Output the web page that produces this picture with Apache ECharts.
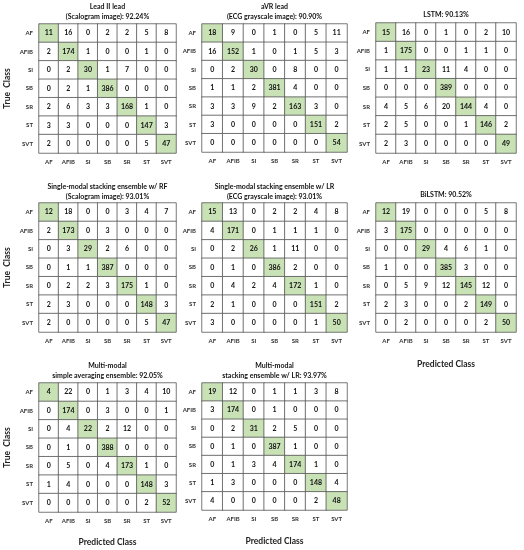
<!DOCTYPE html>
<html>
<head>
<meta charset="utf-8">
<script src="https://cdn.jsdelivr.net/npm/echarts@6/dist/echarts.min.js"></script>
<style>
html,body{margin:0;padding:0;background:#fff;}
#chart{width:524px;height:550px;}
</style>
</head>
<body>
<div id="chart"></div>
<script>
const classes = ['AF','AFIB','SI','SB','SR','ST','SVT'];

const titlesA = ['Lead II lead','(Scalogram image): 92.24%'];
const titlesB = ['aVR lead','(ECG grayscale image): 90.90%'];
const titlesC = ['LSTM: 90.13%'];
const titlesD = ['Single-modal stacking ensemble w/ RF','(Scalogram image): 93.01%'];
const titlesE = ['Single-modal stacking ensemble w/ LR','(ECG grayscale image): 93.01%'];
const titlesF = ['BiLSTM: 90.52%'];
const titlesG = ['Multi-modal','simple averaging ensemble: 92.05%'];
const titlesH = ['Multi-modal','stacking ensemble w/ LR: 93.97%'];

const leadII = [
  [11,16,0,2,2,5,8],
  [2,174,1,0,0,1,0],
  [0,2,30,1,7,0,0],
  [0,2,1,386,0,0,0],
  [2,6,3,3,168,1,0],
  [3,3,0,0,0,147,3],
  [2,0,0,0,0,5,47]
];
const aVR = [
  [18,9,0,1,0,5,11],
  [16,152,1,0,1,5,3],
  [0,2,30,0,8,0,0],
  [1,1,2,381,4,0,0],
  [3,3,9,2,163,3,0],
  [3,0,0,0,0,151,2],
  [0,0,0,0,0,0,54]
];
const lstm = [
  [15,16,0,1,0,2,10],
  [1,175,0,0,1,1,0],
  [1,1,23,11,4,0,0],
  [0,0,0,389,0,0,0],
  [4,5,6,20,144,4,0],
  [2,5,0,0,1,146,2],
  [2,3,0,0,0,0,49]
];
const stackRF = [
  [12,18,0,0,3,4,7],
  [2,173,0,3,0,0,0],
  [0,3,29,2,6,0,0],
  [0,1,1,387,0,0,0],
  [0,2,2,3,175,1,0],
  [2,3,0,0,0,148,3],
  [2,0,0,0,0,5,47]
];
const stackLR = [
  [15,13,0,2,2,4,8],
  [4,171,0,1,1,1,0],
  [0,2,26,1,11,0,0],
  [0,1,0,386,2,0,0],
  [0,4,2,4,172,1,0],
  [2,1,0,0,0,151,2],
  [3,0,0,0,0,1,50]
];
const bilstm = [
  [12,19,0,0,0,5,8],
  [3,175,0,0,0,0,0],
  [0,0,29,4,6,1,0],
  [1,0,0,385,3,0,0],
  [0,5,9,12,145,12,0],
  [2,3,0,0,2,149,0],
  [0,2,0,0,0,2,50]
];
const multiAvg = [
  [4,22,0,1,3,4,10],
  [0,174,0,3,0,0,1],
  [0,4,22,2,12,0,0],
  [0,1,0,388,0,0,0],
  [0,5,0,4,173,1,0],
  [1,4,0,0,0,148,3],
  [0,0,0,0,0,2,52]
];
const multiLR = [
  [19,12,0,1,1,3,8],
  [3,174,0,1,0,0,0],
  [0,2,31,2,5,0,0],
  [0,1,0,387,1,0,0],
  [0,1,3,4,174,1,0],
  [1,3,0,0,0,148,4],
  [4,0,0,0,0,2,48]
];

const FONT = 'Lato';
const GREEN = '#c8e1b5';

const panels = [
  {m: leadII,   t: titlesA, g:{left:39, top:24, width:137, height:129}, ty:7,   yName:true,  xName:false},
  {m: aVR,      t: titlesB, g:{left:202,top:24, width:145, height:128}, ty:7,   yName:false, xName:false},
  {m: lstm,     t: titlesC, g:{left:376,top:23, width:140, height:130}, ty:15,  yName:false, xName:false},
  {m: stackRF,  t: titlesD, g:{left:39, top:203,width:137, height:129}, ty:187, yName:true,  xName:false},
  {m: stackLR,  t: titlesE, g:{left:202,top:203,width:145, height:129}, ty:187, yName:false, xName:false},
  {m: bilstm,   t: titlesF, g:{left:376,top:203,width:140, height:129}, ty:195, yName:false, xName:true, xGap:28},
  {m: multiAvg, t: titlesG, g:{left:39, top:383,width:137, height:129}, ty:366, yName:true,  xName:true, xGap:26},
  {m: multiLR,  t: titlesH, g:{left:202,top:383,width:145, height:127}, ty:366, yName:false, xName:true, xGap:27}
];

const grid = [], xAxis = [], yAxis = [], series = [], graphic = [];
panels.forEach((p, i) => {
  grid.push(Object.assign({containLabel:false}, p.g));
  xAxis.push({
    type:'category', gridIndex:i, data:classes, position:'bottom',
    axisLine:{show:false}, axisTick:{show:false}, splitLine:{show:false},
    axisLabel:{fontSize:6, fontWeight:'bold', color:'#333', margin:6, fontFamily:FONT},
    name: p.xName ? 'Predicted Class' : '', nameLocation:'middle', nameGap: p.xGap || 20,
    nameTextStyle:{fontSize:8.5, fontWeight:'bold', color:'#222', fontFamily:FONT}
  });
  yAxis.push({
    type:'category', gridIndex:i, data:classes, inverse:true,
    axisLine:{show:false}, axisTick:{show:false}, splitLine:{show:false},
    axisLabel:{fontSize:6, fontWeight:'bold', color:'#333', margin:6, fontFamily:FONT},
    name: p.yName ? 'True  Class' : '', nameLocation:'middle', nameGap:27, nameRotate:90,
    nameTextStyle:{fontSize:8.5, fontWeight:'bold', color:'#222', fontFamily:FONT}
  });
  const data = [];
  p.m.forEach((row, r) => row.forEach((v, c) => {
    data.push({value:[c, r, v], itemStyle:{color: r === c ? GREEN : '#ffffff'}});
  }));
  series.push({
    type:'heatmap', xAxisIndex:i, yAxisIndex:i, data:data,
    itemStyle:{borderColor:'#555', borderWidth:0.8},
    label:{show:true, fontSize:7, fontWeight:'bold', color:'#111', fontFamily:FONT},
    emphasis:{disabled:true}
  });
  const cx = p.g.left + p.g.width / 2;
  p.t.forEach((line, k) => {
    graphic.push({
      type:'text', x:cx, y:p.ty + k * 10,
      style:{text:line, x:0, y:0, align:'center', verticalAlign:'middle',
        fontSize:7, fontWeight:'bold', fill:'#111', fontFamily:FONT}
    });
  });
});

const chart = echarts.init(document.getElementById('chart'), null, {renderer:'canvas'});
chart.setOption({
  backgroundColor:'#fff',
  animation:false,
  tooltip:{show:false},
  grid, xAxis, yAxis, series, graphic
});
</script>
</body>
</html>
